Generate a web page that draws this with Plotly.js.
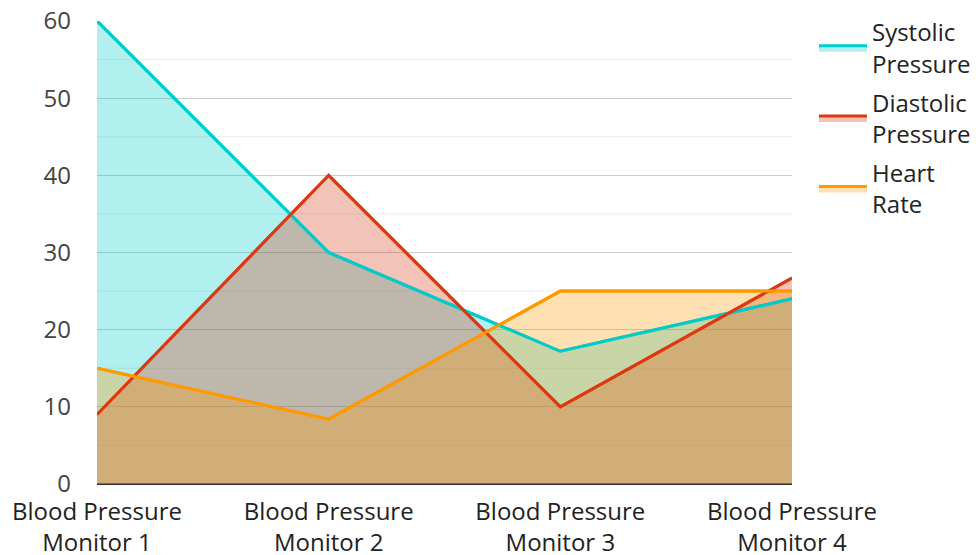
<!DOCTYPE html>
<html>
<head>
<meta charset="utf-8">
<script src="https://cdn.plot.ly/plotly-3.0.1.min.js"></script>
<style>html,body{margin:0;padding:0;background:#fff;}#chart{width:980px;height:555px;}</style>
</head>
<body>
<div id="chart"></div>
<script>
const categories = ["Blood Pressure<br>Monitor 1", "Blood Pressure<br>Monitor 2", "Blood Pressure<br>Monitor 3", "Blood Pressure<br>Monitor 4"];
const seriesNames = ["Systolic<br>Pressure", "Diastolic<br>Pressure", "Heart<br>Rate"];
const systolic = [60, 30, 17.2, 24];
const diastolic = [9, 40, 10, 26.7];
const heartRate = [15, 8.4, 25, 25];
const yTickVals = [0, 10, 20, 30, 40, 50, 60];

const lineColors = ["#00CCCC", "#DC3912", "#FF9900"];
const fillColors = ["rgba(0,204,204,0.3)", "rgba(220,57,18,0.3)", "rgba(255,153,0,0.3)"];
const values = [systolic, diastolic, heartRate];

const fillTraces = values.map((v, i) => ({
  type: "scatter",
  mode: "lines",
  x: categories,
  y: v,
  name: seriesNames[i],
  legendgroup: "g" + i,
  fill: "tozeroy",
  fillcolor: fillColors[i],
  line: {color: lineColors[i], width: 3},
  hoverinfo: "x+y+name"
}));
const lineTraces = values.map((v, i) => ({
  type: "scatter",
  mode: "lines",
  x: categories,
  y: v,
  name: seriesNames[i],
  legendgroup: "g" + i,
  showlegend: false,
  line: {color: lineColors[i], width: 3},
  hoverinfo: "skip"
}));

const minorShapes = [5, 15, 25, 35, 45, 55].map(v => ({
  type: "line", xref: "paper", yref: "y", x0: 0, x1: 1, y0: v, y1: v,
  line: {color: "rgba(0,0,0,0.08)", width: 1}, layer: "below"
}));

const layout = {
  width: 980, height: 555,
  margin: {l: 97, r: 188, t: 21, b: 71},
  paper_bgcolor: "#fff", plot_bgcolor: "#fff",
  font: {family: "Open Sans, Noto Sans, sans-serif", size: 24, color: "#444"},
  xaxis: {
    type: "category",
    range: [0, 3],
    showgrid: false,
    zeroline: false,
    showline: false,
    ticks: "",
    ticklabelstandoff: 11,
    tickfont: {size: 24, color: "#222"},
    fixedrange: true
  },
  yaxis: {
    range: [0, 60],
    tickvals: yTickVals,
    showgrid: true,
    gridcolor: "#cccccc",
    gridwidth: 1,
    zeroline: true,
    zerolinecolor: "#333",
    zerolinewidth: 2,
    showline: false,
    ticks: "",
    ticklabelstandoff: 25,
    tickfont: {size: 24, color: "#444"},
    fixedrange: true
  },
  showlegend: true,
  legend: {
    xref: "container", yref: "container",
    x: 0.8306, xanchor: "left", y: 0.982, yanchor: "top",
    font: {size: 24, color: "#222"},
    tracegroupgap: 5,
    itemwidth: 48
  },
  shapes: minorShapes
};

Plotly.newPlot("chart", fillTraces.concat(lineTraces), layout, {displayModeBar: false, staticPlot: true});
</script>
</body>
</html>
